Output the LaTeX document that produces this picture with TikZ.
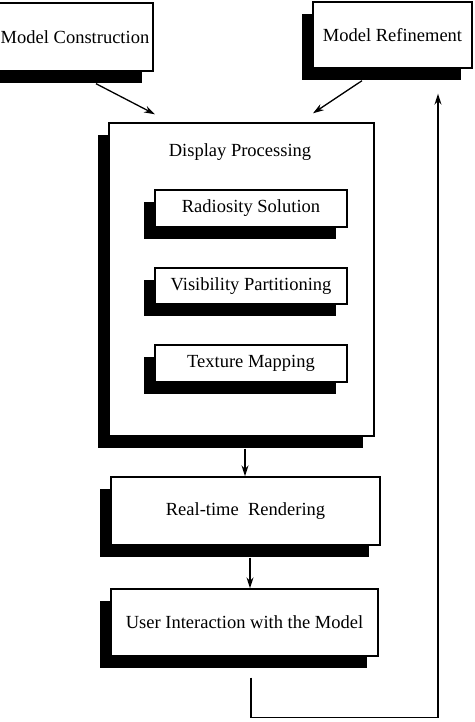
\documentclass[tikz,border=0pt]{standalone}
\usepackage{fontspec}
\setmainfont{Liberation Serif}
\usetikzlibrary{shadows,arrows.meta}

\begin{document}
\begin{tikzpicture}[x=1pt, y=-1pt,
  box/.style={draw, line width=1.4pt, fill=white, inner sep=0pt, font=\fontsize{18.5}{20}\selectfont,
    drop shadow={shadow xshift=-11pt, shadow yshift=-12pt, opacity=1, fill=black}},
  title/.style={font=\fontsize{18.5}{20}\selectfont},
  flow/.style={line width=1.3pt, -{Stealth[length=11pt, width=7pt]}}]
  \useasboundingbox (0,0) rectangle (474,722);

  % Sources
  \node[box, minimum width=156pt, minimum height=68pt] (construct) at (75,37) {Model Construction};
  \node[box, minimum width=159pt, minimum height=66pt] (refine) at (392.5,35) {Model Refinement};

  % Display processing
  \node[box, minimum width=265pt, minimum height=313pt] (display) at (241.5,279.5) {};
  \node[title] (displaytitle) at (240,152) {Display Processing};
  \node[box, minimum width=192pt, minimum height=37pt] (radiosity) at (251,208.5) {Radiosity Solution};
  \node[box, minimum width=192pt, minimum height=36pt] (visibility) at (251,286) {Visibility Partitioning};
  \node[box, minimum width=192pt, minimum height=37pt] (texture) at (251,363.5) {Texture Mapping};

  % Rendering and interaction
  \node[box, minimum width=269pt, minimum height=68pt] (render) at (245.5,511) {Real-time\ \ Rendering};
  \node[box, minimum width=267pt, minimum height=67pt] (interact) at (244.5,622.5) {User Interaction with the Model};

  % Arrows
  \draw[flow] ([shift={(21,12)}]construct.south) -- ([shift={(-86.5,-8)}]display.north);
  \draw[flow] ([shift={(-30.5,12)}]refine.south) -- ([shift={(71.5,-9)}]display.north);
  \draw[flow] ([shift={(3.5,12)}]display.south) -- ([shift={(-0.5,0)}]render.north);
  \draw[flow] ([shift={(4.5,12)}]render.south) -- ([shift={(5.5,0)}]interact.north);
  \draw[flow] ([shift={(6.5,21)}]interact.south) -- ++(0,40) -| ([shift={(45.5,25)}]refine.south);
\end{tikzpicture}
\end{document}
